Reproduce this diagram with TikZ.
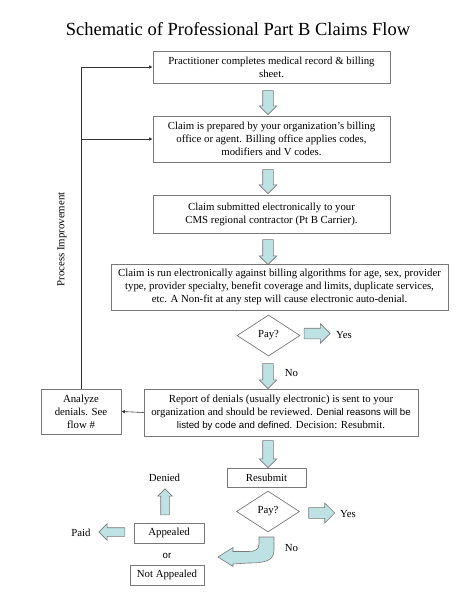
\documentclass[tikz,border=0pt]{standalone}
\usepackage{fontspec}
\setmainfont{Liberation Serif}
\setsansfont{Liberation Sans}
\usetikzlibrary{shapes.geometric,shapes.arrows,arrows.meta}

\definecolor{arrowfill}{RGB}{190,226,228}
\definecolor{boxline}{RGB}{120,120,120}

\begin{document}
\begin{tikzpicture}[x=1pt,y=-1pt,
    box/.style={draw=boxline,line width=0.8pt,inner sep=0pt,align=center,
      font=\fontsize{10.8}{13}\selectfont},
    paybox/.style={diamond,draw=boxline,line width=0.7pt,inner sep=0pt,
      minimum width=63pt,minimum height=41pt,font=\fontsize{10.8}{12}\selectfont},
    blockarrow/.style={single arrow,draw=boxline,fill=arrowfill,line width=0.6pt,
      single arrow head indent=0pt},
    downarrow/.style={blockarrow,shape border rotate=270,inner sep=5pt,
      minimum width=17pt,single arrow head extend=3.5pt},
    sidearrow/.style={blockarrow,inner sep=5pt,minimum width=19pt,
      single arrow head extend=4.5pt},
    lbl/.style={font=\fontsize{10.8}{12}\selectfont},
    feedback/.style={draw=black!80,line width=0.6pt,-{Latex[length=3.5pt,width=3.5pt]}}]
  \useasboundingbox (0,0) rectangle (474,612);
  \def\midx{268};
  % title
  \node[font=\fontsize{18.5}{22}\selectfont] (title) at (238,29)
    {Schematic of Professional Part B Claims Flow};
  % main column
  \node[box,minimum width=237pt,minimum height=32pt] (prac) at (271.5,67)
    {Practitioner completes medical record \& billing\\ sheet.};
  \node[downarrow,minimum height=24pt] (arr1) at (\midx,100) {};
  \node[box,minimum width=237pt,minimum height=46pt] (prep) at (271.5,139)
    {Claim is prepared by your organization's billing\\ office or agent. Billing office applies codes,\\ modifiers and V codes.};
  \node[downarrow,minimum height=24pt] (arr2) at (\midx,179) {};
  \node[box,minimum width=237pt,minimum height=38pt] (submit) at (271.5,214)
    {Claim submitted electronically to your\\ CMS regional contractor (Pt B Carrier).};
  \node[downarrow,minimum height=25pt] (arr3) at (\midx,249.5) {};
  \node[box,minimum width=337pt,minimum height=46pt] (run) at (279.5,287)
    {Claim is run electronically against billing algorithms for age, sex, provider\\ type, provider specialty, benefit coverage and limits, duplicate services,\\ etc. A Non-fit at any step will cause electronic auto-denial.};
  %
  \node[paybox] (pay) at (268.5,335.5) {Pay?};
  \node[sidearrow,minimum height=26pt] (yesarr) at (314.5,333.5) {};
  \node[lbl] (yes) at (344,335) {Yes};
  \node[downarrow,minimum height=25pt] (noarr) at (\midx,373.5) {};
  \node[lbl] (no) at (291.5,373) {No};
  %
  \node[box,minimum width=274pt,minimum height=47pt] (report) at (281,412.5)
    {Report of denials (usually electronic) is sent to your\\ organization and should be reviewed. {\sffamily\fontsize{9.7}{13}\selectfont Denial reasons will be}\\ {\sffamily\fontsize{9.7}{13}\selectfont listed by code and defined.} Decision: Resubmit.};
  \node[box,minimum width=80pt,minimum height=45pt] (analyze) at (81,411.5)
    {Analyze\\ denials. See\\ flow \#};
  \node[lbl,rotate=90] (procimp) at (62,239.5) {Process Improvement};
  \draw[feedback] (report.west) -- (analyze.east);
  \draw[feedback] (analyze.north) |- (prac.west);
  \draw[feedback] (analyze.north |- prep.west) -- (prep.west);
  %
  \node[downarrow,minimum height=27pt] (arr4) at (\midx,451.5) {};
  \node[box,minimum width=79pt,minimum height=19pt] (resub) at (266.5,477.5) {Resubmit};
  \node[paybox] (pay2) at (268,511.5) {Pay?};
  \node[sidearrow,minimum height=26pt,minimum width=20pt] (yesarr2) at (319,513) {};
  \node[lbl] (yes2) at (348,514) {Yes};
  \node[lbl] (no2) at (291.5,548) {No};
  % curved arrow to the appeal boxes
  \draw[draw=boxline,fill=arrowfill,line width=0.6pt]
    (259,537) -- (274,537) -- (274,550)
    .. controls (274,561) and (265,563) .. (248,563)
    -- (233,564) -- (233,566.5) -- (218,557) -- (233,547.5) -- (233,551.5)
    -- (248,551.5) .. controls (256,551.5) and (259,549) .. (259,544) -- cycle;
  %
  \node[box,minimum width=70pt,minimum height=20pt] (appealed) at (169,533) {Appealed};
  \node[lbl,font=\sffamily\fontsize{9.7}{11}\selectfont] (or) at (167,556) {or};
  \node[box,minimum width=74pt,minimum height=20pt] (notapp) at (167,575) {Not Appealed};
  \node[blockarrow,shape border rotate=90,inner sep=4pt,minimum width=14pt,
    minimum height=26pt,single arrow head extend=3pt] (uparr) at (165,504) {};
  \node[lbl] (denied) at (164.5,478) {Denied};
  \node[blockarrow,shape border rotate=180,inner sep=4pt,minimum width=16pt,
    minimum height=26pt,single arrow head extend=4pt] (leftarr) at (114,532) {};
  \node[lbl] (paid) at (81,533) {Paid};
\end{tikzpicture}
\end{document}
